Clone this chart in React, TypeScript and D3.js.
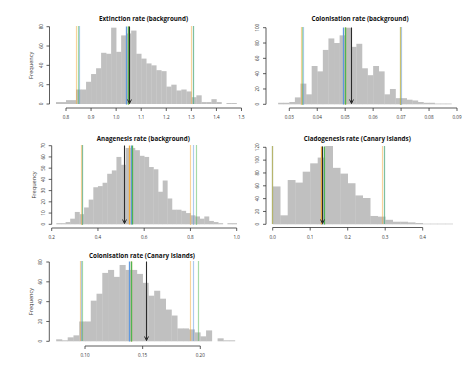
import React from 'react';
import * as d3 from 'd3';

// histogram counts, one array per panel
const extinctionCounts = [2, 2, 4, 4, 15, 15, 23, 31, 37, 53, 52, 79, 54, 71, 73, 76, 52, 47, 42, 40, 35, 34, 18, 20, 14, 15, 13, 7, 9, 2, 2, 5, 2, 0, 1, 1];
const colonisationBgCounts = [2, 2, 3, 9, 27, 13, 50, 43, 71, 86, 80, 90, 100, 75, 79, 47, 38, 50, 43, 13, 20, 8, 8, 6, 5, 3, 2, 2, 1, 1, 1];
const anagenesisCounts = [1, 1, 2, 5, 11, 9, 15, 22, 33, 34, 37, 45, 48, 60, 53, 68, 68, 66, 61, 60, 51, 49, 29, 39, 23, 13, 13, 12, 10, 8, 7, 5, 7, 3, 2, 1, 0, 1, 1];
const cladogenesisCounts = [59, 14, 69, 65, 82, 95, 104, 122, 88, 79, 64, 45, 41, 13, 12, 7, 4, 4, 3, 2, 1, 1, 1, 1];
const colonisationCiCounts = [2, 1, 4, 6, 20, 20, 41, 48, 69, 72, 65, 77, 72, 72, 68, 59, 46, 51, 43, 32, 26, 13, 13, 12, 9, 5, 11, 0, 3, 1, 1];

const counts = [extinctionCounts, colonisationBgCounts, anagenesisCounts, cladogenesisCounts, colonisationCiCounts];
const binStart = [0.76, 0.026, 0.22, 0.0, 0.075];
const binWidth = [0.02, 0.002, 0.02, 0.02, 0.005];

const titles = [
  'Extinction rate (background)',
  'Colonisation rate (background)',
  'Anagenesis rate (background)',
  'Cladogenesis rate (Canary Islands)',
  'Colonisation rate (Canary Islands)',
];
const showFrequency = [true, false, true, false, true];

const xTicks = [
  ['0.8', '0.9', '1.0', '1.1', '1.2', '1.3', '1.4', '1.5'],
  ['0.03', '0.04', '0.05', '0.06', '0.07', '0.08', '0.09'],
  ['0.2', '0.4', '0.6', '0.8', '1.0'],
  ['0.0', '0.1', '0.2', '0.3', '0.4'],
  ['0.10', '0.15', '0.20'],
];
const yTicks = [
  [0, 20, 40, 60, 80],
  [0, 20, 40, 60, 80, 100],
  [0, 10, 20, 30, 40, 50, 60, 70],
  [0, 20, 40, 60, 80, 100, 120],
  [0, 20, 40, 60, 80],
];

// point estimates (solid) and interval bounds (dotted)
const blueMid = [1.043, 0.0495, 0.547, 0.134, 0.1385];
const orangeMid = [1.049, 0.05, 0.535, 0.131, 0.1402];
const greenMid = [1.051, 0.0502, 0.55, 0.137, 0.1405];
const arrowAt = [1.053, 0.0522, 0.514, 0.132, 0.1535];

const blueLow = [0.855, 0.035, 0.333, 0.0, 0.097];
const greenLow = [0.849, 0.0347, 0.334, 0.0, 0.098];
const orangeLow = [0.843, 0.0343, 0.331, 0.0, 0.0962];
const blueHigh = [1.31, 0.07, 0.815, 0.298, 0.1945];
const greenHigh = [1.307, 0.0699, 0.827, 0.297, 0.1986];
const orangeHigh = [1.302, 0.0697, 0.802, 0.294, 0.1917];

const BLUE = '#5f98e0';
const GREEN = '#4fb552';
const ORANGE = '#f2aa3a';

// where each panel sits on the page
const layout = [
  { xr: [66, 241.5], yr: [104, 26.7], axisY: 108, yAxisX: 49.5, tx: 143.5, ty: 20.5, tw: 89 },
  { xr: [289.3, 457], yr: [104.3, 27.7], axisY: 108, yAxisX: 266, tx: 360, ty: 20.5, tw: 97 },
  { xr: [51.7, 236.7], yr: [224.3, 145.7], axisY: 228, yAxisX: 51.7, tx: 143.3, ty: 140.7, tw: 93 },
  { xr: [272.7, 422.7], yr: [224.3, 147.3], axisY: 227.5, yAxisX: 266, tx: 357.3, ty: 140.7, tw: 107 },
  { xr: [85, 200.3], yr: [341.3, 262], axisY: 346, yAxisX: 49.3, tx: 142, ty: 257.5, tw: 106 },
];

const FONT = "'Open Sans', 'DejaVu Sans', sans-serif";

const snap = (v) => Math.round(v - 0.5) + 0.5;

const Panel = ({ i }) => {
  const L = layout[i];
  const ticks = xTicks[i];
  const x = d3.scaleLinear().domain([+ticks[0], +ticks[ticks.length - 1]]).range(L.xr);
  const yt = yTicks[i];
  const y = d3.scaleLinear().domain([0, yt[yt.length - 1]]).range(L.yr);
  const w = binWidth[i];
  // half-pixel offset so the 1px dots blend into a soft, pale line like the original
  const top = Math.round(y(yt[yt.length - 1]) - 1) + 0.5;
  const base = Math.round(y(0)) + 0.5;

  const vline = (v, color, dotted, key) => (
    <line key={key} x1={snap(x(v))} x2={snap(x(v))} y1={top} y2={base}
      stroke={color} strokeWidth={dotted ? 1.2 : 1.3}
      strokeDasharray={dotted ? '1,1' : undefined} />
  );

  const xa = snap(x(arrowAt[i]));

  return (
    <g>
      {counts[i].map((c, k) => {
        const x0 = binStart[i] + k * w;
        if (c <= 0) return null;
        return (
          <rect key={k} x={x(x0)} width={x(x0 + w) - x(x0) + 0.3}
            y={y(c)} height={y(0) - y(c)} fill="#c0c0c0" />
        );
      })}

      {vline(blueLow[i], BLUE, true, 'bl')}
      {vline(greenLow[i], GREEN, true, 'gl')}
      {vline(orangeLow[i], ORANGE, true, 'ol')}
      {vline(blueHigh[i], BLUE, true, 'bh')}
      {vline(greenHigh[i], GREEN, true, 'gh')}
      {vline(orangeHigh[i], ORANGE, true, 'oh')}
      {vline(blueMid[i], BLUE, false, 'bm')}
      {vline(orangeMid[i], ORANGE, false, 'om')}
      {vline(greenMid[i], GREEN, false, 'gm')}

      {/* arrow for the true value */}
      <line x1={xa} x2={xa} y1={top} y2={base - 1} stroke="#2b2b2b" strokeWidth={1.1} />
      <path d={`M${xa - 2},${base - 5} L${xa},${base - 1} L${xa + 2},${base - 5}`}
        fill="none" stroke="#2b2b2b" strokeWidth={1} />

      {/* x axis */}
      <line x1={L.xr[0]} x2={L.xr[1]} y1={L.axisY} y2={L.axisY} stroke="#333" strokeWidth={0.8} />
      {ticks.map((t) => (
        <g key={t}>
          <line x1={x(+t)} x2={x(+t)} y1={L.axisY} y2={L.axisY + 3} stroke="#333" strokeWidth={0.8} />
          <text x={x(+t)} y={L.axisY + 11} textAnchor="middle" fontSize={4.6}
            fontFamily={FONT} fill="#333">{t}</text>
        </g>
      ))}

      {/* y axis */}
      <line x1={L.yAxisX} x2={L.yAxisX} y1={y(0)} y2={y(yt[yt.length - 1])} stroke="#333" strokeWidth={0.8} />
      {yt.map((t) => (
        <g key={t}>
          <line x1={L.yAxisX - 3} x2={L.yAxisX} y1={y(t)} y2={y(t)} stroke="#333" strokeWidth={0.8} />
          <text transform={`translate(${L.yAxisX - 8.5},${y(t)}) rotate(-90)`}
            textAnchor="middle" dy="0.35em" fontSize={4.6} fontFamily={FONT} fill="#333">{t}</text>
        </g>
      ))}

      <text x={L.tx} y={L.ty} textAnchor="middle" fontSize={7.8} fontWeight="bold"
        fontFamily={FONT} fill="#111" textLength={L.tw} lengthAdjust="spacingAndGlyphs">{titles[i]}</text>

      {showFrequency[i] && (
        <text transform={`translate(${L.yAxisX - 18},${(y(0) + y(yt[yt.length - 1])) / 2}) rotate(-90)`}
          textAnchor="middle" dy="0.35em" fontSize={5.6} fontFamily={FONT} fill="#333">Frequency</text>
      )}
    </g>
  );
};

export default function App() {
  return (
    <svg width={474} height={366} style={{ position: 'absolute', left: 0, top: 0 }}>
      <rect width={474} height={366} fill="#fff" />
      {titles.map((_, i) => <Panel key={i} i={i} />)}
    </svg>
  );
}
